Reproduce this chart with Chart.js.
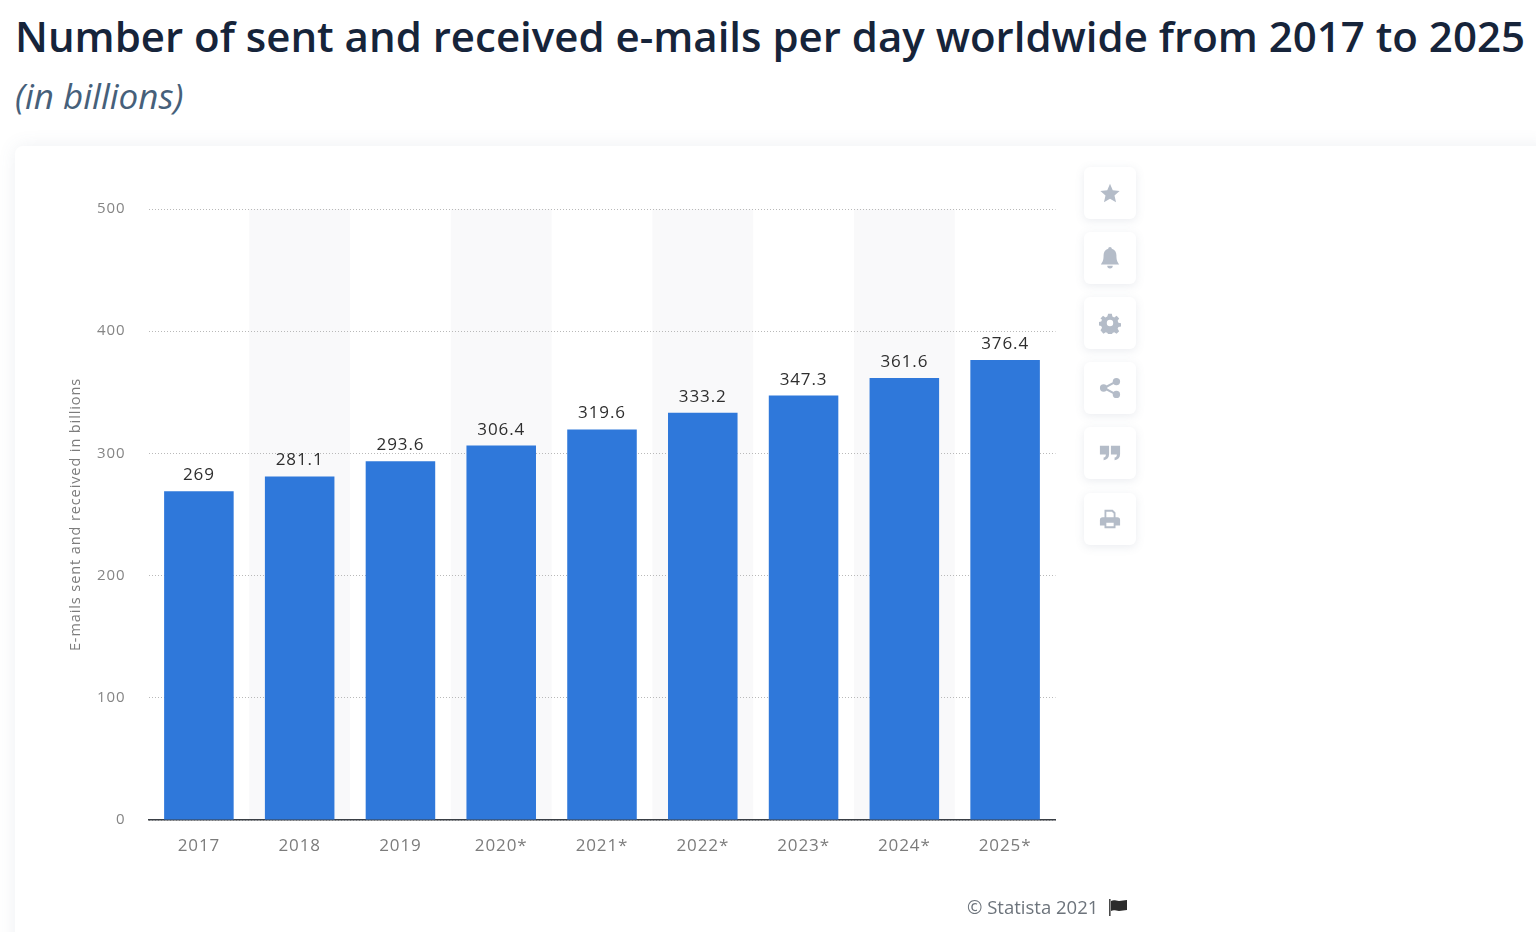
<!DOCTYPE html>
<html>
<head>
<meta charset="utf-8">
<title>E-mails per day</title>
<script src="https://cdn.jsdelivr.net/npm/chart.js@4"></script>
<style>
  html, body { margin: 0; padding: 0; background: #fff; overflow: hidden; }
  body { width: 1536px; height: 932px; position: relative; font-family: "Open Sans", sans-serif; }
  h1 { position: absolute; left: 15px; top: 8px; margin: 0; font-size: 42px; line-height: 56px; font-weight: 600; color: #16243a; white-space: nowrap; }
  h2 { position: absolute; left: 15px; top: 74px; margin: 0; font-size: 35px; line-height: 44px; font-weight: 400; font-style: italic; color: #46607a; white-space: nowrap; }
  #card { position: absolute; left: 15px; top: 146px; width: 1540px; height: 820px; background: #fff; border-radius: 8px; box-shadow: 0 0 18px rgba(90, 110, 140, 0.10); }
  #chart { position: absolute; left: 0; top: 0; }
  .btn { position: absolute; left: 1084px; width: 52px; height: 52px; background: #fff; border-radius: 6px; box-shadow: 0 2px 10px rgba(90, 110, 140, 0.13); display: flex; align-items: center; justify-content: center; }
  .btn svg { width: 22px; height: 22px; fill: #b4bcc8; }
  #source { position: absolute; left: 967px; top: 895px; font-size: 18.5px; line-height: 24px; color: #6d747c; white-space: nowrap; }
  #flag { position: absolute; left: 1108px; top: 899px; width: 20px; height: 17px; }
</style>
</head>
<body>
<h1>Number of sent and received e-mails per day worldwide from 2017 to 2025</h1>
<h2>(in billions)</h2>
<div id="card"></div>

<div class="btn" style="top:167px"><svg viewBox="0 0 24 24"><path d="M12 2l3 7 7.500.7-5.600 5 1.700 7.300L12 18.200 5.400 22l1.700-7.300-5.600-5L9 9z"/></svg></div>
<div class="btn" style="top:232px"><svg viewBox="0 0 24 24"><path d="M12 0a2 2 0 0 1 2 2c3.500 1 5 4 5 7 0 6 1 7 3 10H2c2-3 3-4 3-10 0-3 1.500-6 5-7a2 2 0 0 1 2-2zM9 20.500h6a3 3 0 0 1-6 0z"/></svg></div>
<div class="btn" style="top:297px"><svg viewBox="0 0 24 24"><path fill-rule="evenodd" d="M10 2h4l.6 3 2 .9 2.600-1.700 2.800 2.800-1.700 2.600.9 2 3 .6v3.600l-3 .6-.9 2 1.700 2.600-2.800 2.800-2.600-1.700-2 .9-.6 3h-4l-.6-3-2-.9-2.600 1.700L1.600 19.800l1.700-2.600-.9-2-3-.6v-3.600l3-.6.9-2L1.600 7 4.400 4.200 7 5.900l2-.9zM12 8.500a3.500 3.500 0 1 0 0 7 3.500 3.500 0 0 0 0-7z"/></svg></div>
<div class="btn" style="top:362px"><svg viewBox="0 0 24 24"><circle cx="19" cy="5" r="4"/><circle cx="19" cy="19" r="4"/><circle cx="5" cy="12" r="4"/><path d="M5 11l14-7.500 1 2L6 13zM6 11l14 7.500-1 2L5 13z"/></svg></div>
<div class="btn" style="top:427px"><svg viewBox="0 0 24 24"><path d="M1 4h10v9c0 4-2 6-6 7v-3c2-.5 2.500-2 2.500-3.500H1zM13 4h10v9c0 4-2 6-6 7v-3c2-.5 2.500-2 2.500-3.500H13z"/></svg></div>
<div class="btn" style="top:493px"><svg viewBox="0 0 24 24"><path fill-rule="evenodd" d="M6 2h9l3 3v5h2a3 3 0 0 1 3 3v6h-5v3H6v-3H1v-6a3 3 0 0 1 3-3h2zM8 4v6h8V6l-2-2zM8 16v4h8v-4z"/></svg></div>

<canvas id="chart" width="1536" height="932"></canvas>

<div id="source">© Statista 2021</div>
<svg id="flag" viewBox="0 0 20 17"><rect x="1" y="0" width="1.600" height="17" fill="#4a4a4a"/><path d="M3 2c3-1.500 5 0 8 0s5-1 8-1v10c-3 0-5 1-8 1s-5-1.500-8 0z" fill="#2c2c2c"/></svg>

<script>
const years = ["2017", "2018", "2019", "2020*", "2021*", "2022*", "2023*", "2024*", "2025*"];
const emails = [269, 281.1, 293.6, 306.4, 319.6, 333.2, 347.3, 361.6, 376.4];
const valueLabels = ["269", "281.1", "293.6", "306.4", "319.6", "333.2", "347.3", "361.6", "376.4"];

//Bandas grises alternas detras de las barras
const bandsPlugin = {
  id: "bands",
  beforeDraw(chart) {
    const { ctx, chartArea, scales } = chart;
    ctx.letterSpacing = "0.9px";
    const step = scales.x.getPixelForValue(1) - scales.x.getPixelForValue(0);
    ctx.save();
    ctx.fillStyle = "#f9f9fa";
    years.forEach((year, i) => {
      if (i % 2 === 1) {
        ctx.fillRect(scales.x.getPixelForValue(i) - step / 2, chartArea.top, step, chartArea.height);
      }
    });
    ctx.restore();
  },
};

//Etiquetas encima de cada barra
const labelsPlugin = {
  id: "valueLabels",
  afterDatasetsDraw(chart) {
    const { ctx } = chart;
    ctx.save();
    ctx.font = "17px 'Open Sans'";
    ctx.fillStyle = "#2e2e2e";
    ctx.textAlign = "center";
    ctx.textBaseline = "alphabetic";
    chart.getDatasetMeta(0).data.forEach((bar, i) => {
      ctx.fillText(valueLabels[i], bar.x, bar.y - 11);
    });
    ctx.restore();
  },
};

new Chart("chart", {
  type: "bar",
  data: {
    labels: years,
    datasets: [
      {
        data: emails,
        backgroundColor: "#2f78da",
        barPercentage: 0.69,
        categoryPercentage: 1,
      },
    ],
  },
  options: {
    responsive: false,
    animation: false,
    layout: { padding: { left: 67.5, right: 480.5, top: 209, bottom: 52 } },
    plugins: {
      legend: { display: false },
      tooltip: { enabled: false },
    },
    scales: {
      x: {
        afterFit(axis) { axis.height = 60; },
        grid: { display: false },
        border: { color: "#3a3f45", width: 1.5 },
        ticks: {
          color: "#7c7c7c",
          padding: 8,
          maxRotation: 0,
          font: { family: "'Open Sans'", size: 17 },
        },
      },
      y: {
        min: 0,
        max: 500,
        afterFit(axis) { axis.width = 81; },
        grid: { color: "#b9b9b9", drawTicks: false, lineWidth: 1 },
        border: { display: false, dash: [1, 2] },
        ticks: {
          stepSize: 100,
          color: "#858585",
          padding: 23,
          font: { family: "'Open Sans'", size: 15 },
        },
        title: {
          display: true,
          text: "E-mails sent and received in billions",
          color: "#7c7c7c",
          padding: { top: 0, bottom: 0 },
          font: { family: "'Open Sans'", size: 14.5 },
        },
      },
    },
  },
  plugins: [bandsPlugin, labelsPlugin],
});
</script>
</body>
</html>
